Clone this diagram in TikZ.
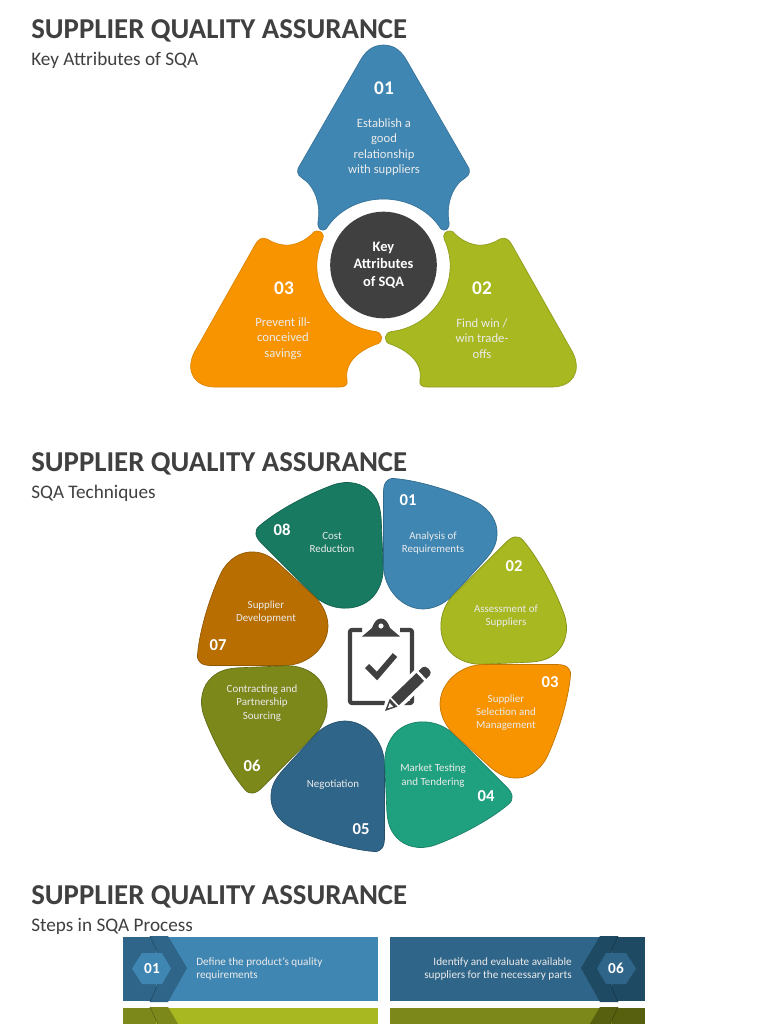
\documentclass[tikz,border=0pt]{standalone}
\usepackage{fontspec}
\setmainfont{Carlito}
\definecolor{cblue}{HTML}{3F86B3}
\definecolor{clime}{HTML}{A8B820}
\definecolor{corange}{HTML}{F79400}
\definecolor{cteal}{HTML}{1FA180}
\definecolor{cnavy}{HTML}{2F6588}
\definecolor{colive}{HTML}{7D881B}
\definecolor{cbrown}{HTML}{B86E00}
\definecolor{cdteal}{HTML}{177A61}
\definecolor{cdark}{HTML}{404040}
\definecolor{cdnavy}{HTML}{1F4A63}
\definecolor{cdolive}{HTML}{56600F}
\newcommand{\fsz}[2]{\fontsize{#1}{#2}\selectfont}
\newcommand{\sqapetal}[2]{%
 \begin{scope}[rotate around={#1:(384,665)}]
  \path[petalshape,fill=#2,draw=#2!78!black] (383.5,492)
   .. controls (383.5,483) and (387,478) .. (394,478.5)
   .. controls (420,480.5) and (455,492) .. (476,502)
   .. controls (490,509) and (498,522) .. (497,535)
   .. controls (496.5,545) and (492,552) .. (485,560)
   -- (452,596)
   .. controls (443,605) and (432,609) .. (423,609)
   .. controls (403,609) and (383.5,590) .. (383.5,565) -- cycle;
 \end{scope}}
\newcommand{\sqachevron}[3]{%
 \fill[#2] (123,#1) rectangle (156,#1+64);
 \fill[#3] (150,#1-1) -- (168,#1-1) -- (187,#1+31) -- (168,#1+65) -- (150,#1+65) -- (165,#1+31) -- cycle;
 \draw[#3!75!black,line width=.5pt] (150,#1-1) -- (165,#1+31) -- (150,#1+65);
}
\tikzset{
 x=.75pt,y=-.75pt,
 petalshape/.style={line width=.5pt},
 lobe/.style={line width=.5pt,line join=round},
 title/.style={anchor=west,inner sep=0pt,text=cdark,font=\fsz{21.6}{26}\bfseries},
 subtitle/.style={anchor=west,inner sep=0pt,text=cdark,font=\fsz{14.4}{17}},
 bignum/.style={text=white,inner sep=0pt,font=\fsz{14.5}{17}\bfseries},
 midnum/.style={text=white,inner sep=0pt,font=\fsz{12.5}{14}\bfseries},
 toptext/.style={text=white!92!black,inner sep=0pt,align=center,font=\fsz{9.5}{11.5}},
 pettext/.style={text=white!92!black,inner sep=0pt,align=center,font=\fsz{8.2}{10}},
 rowtext/.style={text=white!92!black,inner sep=0pt,font=\fsz{8.4}{9.9}},
 hexnum/.style={text=white,inner sep=0pt,font=\fsz{11.5}{13}\bfseries},
 iconink/.style={cdark,line join=round},
}
\begin{document}
\begin{tikzpicture}
\useasboundingbox (0,0) rectangle (768,1024);
\clip (0,0) rectangle (768,1024);
\fill[white] (0,0) rectangle (768,1024);

% ---------- first block
\node[title] (h1) at (31,31) {SUPPLIER QUALITY ASSURANCE};
\node[subtitle] (s1) at (31,60) {Key Attributes of SQA};

\path[lobe,fill=cblue,draw=cblue!85!black] (383.5,45)
 .. controls (372,45) and (365,52) .. (360,61)
 -- (300,165)
 .. controls (296,170) and (297,175) .. (302,178)
 .. controls (315,186) and (321,205) .. (318,222)
 .. controls (317,229) and (322,232) .. (326,229)
 .. controls (351.5,189) and (415.5,189) .. (441,229)
 .. controls (445,232) and (450,229) .. (449,222)
 .. controls (446,205) and (452,186) .. (465,178)
 .. controls (470,175) and (471,170) .. (467,165)
 -- (407,61)
 .. controls (402,52) and (395,45) .. (383.5,45) -- cycle;

\newcommand{\sidelobe}{(316.5,231)
 .. controls (321,230) and (325,235) .. (322.75,239.2)
 .. controls (304,279.6) and (331.9,326.5) .. (375.5,331.5)
 .. controls (383,332.5) and (384,342) .. (377,344)
 .. controls (360,350) and (344,362) .. (347,380)
 .. controls (348,385) and (345,387) .. (340,387)
 -- (215,387)
 .. controls (195,387) and (185,372) .. (194,353)
 -- (255,245)
 .. controls (258,239) and (262,237) .. (267,239)
 .. controls (285,250) and (300,245) .. (312,234)
 .. controls (313,232) and (315,231) .. (316.5,231) -- cycle}
\path[lobe,fill=corange,draw=corange!90!black] \sidelobe;
\begin{scope}[shift={(767,0)},xscale=-1]
 \path[lobe,fill=clime,draw=clime!85!black] \sidelobe;
\end{scope}

\fill[cdark] (383.5,265) circle[radius=40pt];
\node[text=white,inner sep=0pt,align=center,font=\fsz{10.8}{13}\bfseries] (c1) at (383.5,265) {Key\\Attributes\\of SQA};

\node[bignum] (n1) at (384,88) {01};
\node[toptext] (t1) at (384,147) {Establish a\\good\\relationship\\with suppliers};
\node[bignum] (n2) at (482,288) {02};
\node[toptext] (t2) at (482,338.5) {Find win /\\win trade-\\offs};
\node[bignum] (n3) at (284,288) {03};
\node[toptext] (t3) at (283,338.5) {Prevent ill-\\conceived\\savings};

% ---------- second block
\node[title] (h2) at (31,464) {SUPPLIER QUALITY ASSURANCE};
\node[subtitle] (s2) at (31,493) {SQA Techniques};

\sqapetal{45}{cdteal}
\sqapetal{90}{cbrown}
\sqapetal{135}{colive}
\sqapetal{180}{cnavy}
\sqapetal{225}{cteal}
\sqapetal{0}{cblue}
\sqapetal{-45}{clime}
\sqapetal{-90}{corange}

\node[midnum] (p1) at (408,500.5) {01};
\node[midnum] (p2) at (514,566.5) {02};
\node[midnum] (p3) at (550,682) {03};
\node[midnum] (p4) at (486,796) {04};
\node[midnum] (p5) at (361,829) {05};
\node[midnum] (p6) at (252,766) {06};
\node[midnum] (p7) at (218,645) {07};
\node[midnum] (p8) at (282,530) {08};
\node[pettext] (q1) at (433,543) {Analysis of\\Requirements};
\node[pettext] (q2) at (506,616) {Assessment of\\Suppliers};
\node[pettext] (q3) at (506,712.5) {Supplier\\Selection and\\Management};
\node[pettext] (q4) at (433,775.5) {Market Testing\\and Tendering};
\node[pettext] (q5) at (333,784.5) {Negotiation};
\node[pettext] (q6) at (262,703) {Contracting and\\Partnership\\Sourcing};
\node[pettext] (q7) at (266,612) {Supplier\\Development};
\node[pettext] (q8) at (332,542.5) {Cost\\Reduction};

% clipboard icon
\draw[iconink,line width=3.2pt,rounded corners=1.5pt] (362,630) -- (350,630) -- (350,703) -- (412,703) -- (412,630) -- (400,630);
\fill[iconink,even odd rule] (362,636.5) -- (372,628) .. controls (374,622) and (377,618.5) .. (381,618.5)
  .. controls (385,618.5) and (388,622) .. (390,628) -- (400,636.5) -- cycle
  (381,626) circle[radius=2pt];
\draw[iconink,line width=4.4pt,line join=miter] (367,666) -- (377,676) -- (395,655);
\begin{scope}[shift={(385,711)},rotate=44]
 \fill[white] (-4,0) -- (10,-9) -- (66,-9) -- (66,9) -- (10,9) -- cycle;
 \fill[iconink] (0,0) -- (12,-5.5) -- (12,5.5) -- cycle;
 \fill[white] (4,0) -- (9,-2.5) -- (9,2.5) -- cycle;
 \fill[iconink] (14,-5.5) -- (49,-5.5) -- (49,5.5) -- (14,5.5) -- cycle;
 \fill[iconink] (52,-5.5) -- (57,-5.5) .. controls (62,-5.5) and (62,5.5) .. (57,5.5) -- (52,5.5) -- cycle;
\end{scope}

% ---------- third block
\node[title] (h3) at (31,897) {SUPPLIER QUALITY ASSURANCE};
\node[subtitle] (s3) at (31,926) {Steps in SQA Process};

\fill[cblue] (123,937) rectangle (378,1001);
\sqachevron{937}{cnavy}{cnavy}
\fill[clime] (123,1008) rectangle (378,1072);
\sqachevron{1008}{colive}{colive}
\begin{scope}[shift={(768,0)},xscale=-1]
 \fill[cnavy] (123,937) rectangle (378,1001);
 \sqachevron{937}{cdnavy}{cdnavy}
 \fill[colive] (123,1008) rectangle (378,1072);
 \sqachevron{1008}{cdolive}{cdolive}
\end{scope}
\fill[cblue] (132,968.5) -- (142,953) -- (162,953) -- (171,968.5) -- (162,984) -- (142,984) -- cycle;
\fill[cnavy] (636,968.5) -- (626,953) -- (606,953) -- (597,968.5) -- (606,984) -- (626,984) -- cycle;
\node[hexnum] (r1) at (152,968.5) {01};
\node[hexnum] (r6) at (616,968.5) {06};
\node[rowtext,anchor=north west,align=left] (w1) at (196,957) {Define the product's quality\\requirements};
\node[rowtext,anchor=north east,align=right] (w6) at (572,957) {Identify and evaluate available\\suppliers for the necessary parts};
\end{tikzpicture}
\end{document}
